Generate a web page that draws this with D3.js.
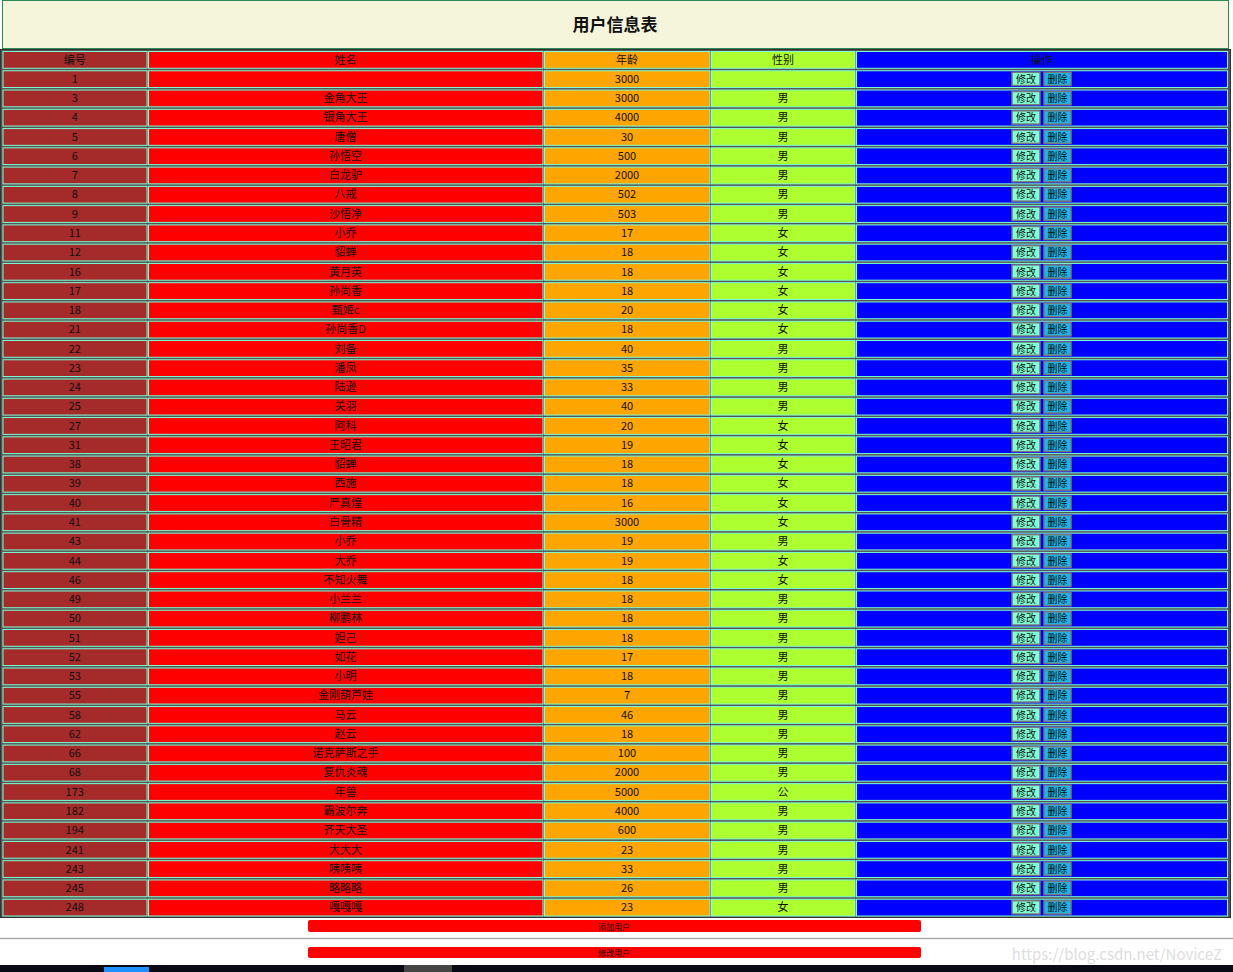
<!DOCTYPE html>
<html><head><meta charset="utf-8">
<script src="https://cdn.jsdelivr.net/npm/d3@7"></script>
<style>body{margin:0;background:#fff;font-family:"Noto Sans CJK SC","DejaVu Sans",sans-serif}</style>
</head><body><svg id="c" width="1233" height="972"></svg>
<script>
const headers=["编号","姓名","年龄","性别","操作"];
const ids=[1,3,4,5,6,7,8,9,11,12,16,17,18,21,22,23,24,25,27,31,38,39,40,41,43,44,46,49,50,51,52,53,55,58,62,66,68,173,182,194,241,243,245,248];
const names=["","金角大王","银角大王","唐僧","孙悟空","白龙驴","八戒","沙悟净","小乔","貂蝉","黄月英","孙尚香","甄姬c","孙尚香D","刘备","潘凤","陆逊","关羽","阿科","王昭君","貂蝉","西施","严真煌","白骨精","小乔","大乔","不知火舞","小兰兰","柳鹏林","妲己","如花","小明","金刚葫芦娃","马云","赵云","诺克萨斯之手","复仇炎魂","年兽","霸波尔奔","齐天大圣","大大大","咦咦咦","略略略","嘎嘎嘎"];
const ages=[3000,3000,4000,30,500,2000,502,503,17,18,18,18,20,18,40,35,33,40,20,19,18,18,16,3000,19,19,18,18,18,18,17,18,7,46,18,100,2000,5000,4000,600,23,33,26,23];
const sexes=["","男","男","男","男","男","男","男","女","女","女","女","女","女","男","男","男","男","女","女","女","女","女","女","男","女","女","男","男","男","男","男","男","男","男","男","男","公","男","男","男","男","男","女"];
const colColors=["#a52a2a","#ff0000","#ffa500","#adff2f","#0000ff"];
const colEdges=[2,147.5,543.5,710.5,855.5,1228];

const svg=d3.select("#c");
const rowsIdx=d3.range(ids.length+1);
const y=d3.scaleBand().domain(rowsIdx).range([50,917]).padding(0);
const colIdx=d3.range(5);
const x=i=>colEdges[i], w=i=>colEdges[i+1]-colEdges[i];

// title
svg.append("rect").attr("x",2.5).attr("y",0.5).attr("width",1226).attr("height",48).attr("fill","#f5f5dc").attr("stroke","#2e8b57");
svg.append("text").attr("x",615).attr("y",31).attr("text-anchor","middle").attr("font-size",17).attr("font-weight","bold").attr("fill","#111").text("用户信息表");
// table outer
svg.append("rect").attr("x",0.5).attr("y",49.5).attr("width",1230).attr("height",868).attr("fill","#555").attr("stroke","#333");

const data=rowsIdx.map(r=>r===0?headers:[ids[r-1],names[r-1],ages[r-1],sexes[r-1],""]);
const rows=svg.selectAll("g.row").data(data).join("g").attr("class","row").attr("transform",(d,r)=>`translate(0,${y(r)})`);
rows.selectAll("rect.cell").data(d=>d.map((v,i)=>({v,i}))).join("rect").attr("class","cell")
 .attr("x",d=>x(d.i)+1).attr("y",1.5).attr("width",d=>w(d.i)-1.5).attr("height",y.bandwidth()-2.5)
 .attr("fill",d=>colColors[d.i]).attr("stroke","#7fffd4").attr("stroke-width",1);
rows.selectAll("text.t").data(d=>d.map((v,i)=>({v,i})).filter(c=>c.i<4||c.v!=="")).join("text").attr("class","t")
 .attr("x",d=>x(d.i)+w(d.i)/2).attr("y",y.bandwidth()/2+4).attr("text-anchor","middle").attr("font-size",11).attr("fill","#111").text(d=>d.v);
// buttons
const btns=[{t:"修改",x:1012,w:28,c:"#7fffd4"},{t:"删除",x:1044,w:27,c:"#1eb4e6"}];
rows.filter((d,r)=>r>0).each(function(){
  const g=d3.select(this);
  btns.forEach(b=>{
    g.append("rect").attr("x",b.x).attr("y",3).attr("width",b.w).attr("height",y.bandwidth()-6).attr("fill",b.c).attr("stroke","#777").attr("stroke-width",1.5);
    g.append("text").attr("x",b.x+b.w/2).attr("y",y.bandwidth()/2+4).attr("text-anchor","middle").attr("font-size",10).attr("fill","#111").text(b.t);
  });
});
// bottom
svg.append("rect").attr("x",0).attr("y",918).attr("width",1233).attr("height",47).attr("fill","#fff");
svg.append("rect").attr("x",308).attr("y",920).attr("width",613).attr("height",12).attr("rx",2).attr("fill","#ff0000");
svg.append("text").attr("x",614).attr("y",930).attr("text-anchor","middle").attr("font-size",8).attr("fill","#111").text("添加用户");
svg.append("line").attr("x1",0).attr("x2",1233).attr("y1",938.5).attr("y2",938.5).attr("stroke","#aaa").attr("stroke-width",1.5);
svg.append("rect").attr("x",308).attr("y",947).attr("width",613).attr("height",11).attr("rx",2).attr("fill","#ff0000");
svg.append("text").attr("x",614).attr("y",956).attr("text-anchor","middle").attr("font-size",8).attr("fill","#111").text("修改用户");
svg.append("text").attr("x",1222).attr("y",960).attr("text-anchor","end").attr("font-size",15).attr("fill","#ddd").text("https://blog.csdn.net/NoviceZ");
svg.append("rect").attr("x",0).attr("y",965).attr("width",1233).attr("height",7).attr("fill","#0a0a14");
svg.append("rect").attr("x",104).attr("y",967).attr("width",45).attr("height",5).attr("fill","#1e90ff");
svg.append("rect").attr("x",404).attr("y",965).attr("width",48).attr("height",7).attr("fill","#444");
</script></body></html>
